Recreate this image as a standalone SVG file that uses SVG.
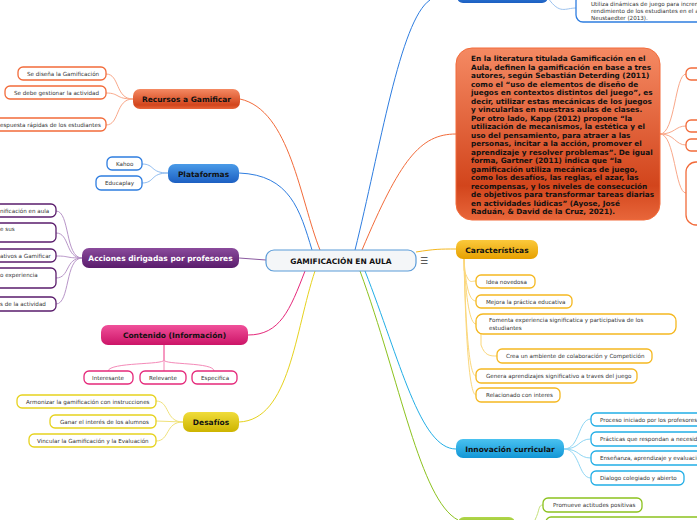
<svg xmlns="http://www.w3.org/2000/svg" width="697" height="520" viewBox="0 0 697 520">
<defs>
<linearGradient id="gO" x1="0" y1="0" x2="0" y2="1"><stop offset="0" stop-color="#f58a63"/><stop offset="0.8" stop-color="#d2451c"/><stop offset="1" stop-color="#e8663a"/></linearGradient>
<linearGradient id="gB" x1="0" y1="0" x2="0" y2="1"><stop offset="0" stop-color="#4a9be8"/><stop offset="1" stop-color="#1c5fc2"/></linearGradient>
<linearGradient id="gP" x1="0" y1="0" x2="0" y2="1"><stop offset="0" stop-color="#8a4b9c"/><stop offset="1" stop-color="#5a1c6c"/></linearGradient>
<linearGradient id="gK" x1="0" y1="0" x2="0" y2="1"><stop offset="0" stop-color="#f0509a"/><stop offset="1" stop-color="#cc1467"/></linearGradient>
<linearGradient id="gY" x1="0" y1="0" x2="0" y2="1"><stop offset="0" stop-color="#f0dc3a"/><stop offset="1" stop-color="#cdb400"/></linearGradient>
<linearGradient id="gA" x1="0" y1="0" x2="0" y2="1"><stop offset="0" stop-color="#fbc93c"/><stop offset="1" stop-color="#e6a000"/></linearGradient>
<linearGradient id="gC" x1="0" y1="0" x2="0" y2="1"><stop offset="0" stop-color="#4ac2f0"/><stop offset="1" stop-color="#1296d6"/></linearGradient>
<linearGradient id="gG" x1="0" y1="0" x2="0" y2="1"><stop offset="0" stop-color="#b0d64a"/><stop offset="1" stop-color="#86b21c"/></linearGradient>
</defs>
<style>
text{font-family:"DejaVu Sans",sans-serif;}
.m{font-size:7.5px;font-weight:bold;fill:#111;text-anchor:middle;}
.mw{font-size:7.5px;font-weight:bold;fill:#fff;text-anchor:middle;}
.c{font-size:5.6px;fill:#333;}
.ch{fill:#fff;stroke-width:1.3;}
.l{fill:none;stroke-width:1;}
</style>
<g id="connectors">
<path class="l" stroke="#f26b3a" stroke-width="1.5" d="M320 250 C300 200 290 110 240 99"/>
<path class="l" stroke="#2e7de0" stroke-width="1.5" d="M312 250 C300 210 290 175 239 173"/>
<path class="l" stroke="#8b5aa0" stroke-width="1.5" d="M266 260 L239 258"/>
<path class="l" stroke="#e5287a" stroke-width="1.5" d="M305 271 C290 310 280 335 248 335"/>
<path class="l" stroke="#e6d21e" stroke-width="1.5" d="M315 271 C295 330 290 420 239 422"/>
<path class="l" stroke="#2e7de0" stroke-width="1.5" d="M355 250 C380 150 400 20 430 0"/>
<path class="l" stroke="#f26b3a" stroke-width="1.5" d="M362 250 C400 160 420 134 456 134"/>
<path class="l" stroke="#f5b820" stroke-width="1.5" d="M416 252 C435 249 440 249 456 249"/>
<path class="l" stroke="#22aee6" stroke-width="1.5" d="M365 271 C400 360 420 449 456 449"/>
<path class="l" stroke="#8cc21e" stroke-width="1.5" d="M360 271 C400 380 420 500 458 520"/>
<g stroke="#f9a88a"><path class="l" d="M133 99 C115 99 120 74 106 74"/><path class="l" d="M133 99 C115 99 120 93 106 93"/><path class="l" d="M133 99 C115 99 120 125 106 125"/></g>
<g stroke="#8fbcf0"><path class="l" d="M168 173 C150 173 155 164 142 164"/><path class="l" d="M168 173 C150 173 155 183 142 183"/></g>
<g stroke="#b895c8"><path class="l" d="M82 258 C65 258 70 211 56 211"/><path class="l" d="M82 258 C65 258 70 233 56 233"/><path class="l" d="M82 258 C65 258 70 256 56 256"/><path class="l" d="M82 258 C65 258 70 278 56 278"/><path class="l" d="M82 258 C65 258 70 304 56 304"/></g>
<g stroke="#f48ab8"><path class="l" d="M164 345 L164 360 C164 365 110 362 108 371"/><path class="l" d="M164 345 L164 371"/><path class="l" d="M164 345 L164 360 C164 365 214 362 214 371"/></g>
<g stroke="#f0e27a"><path class="l" d="M183 422 C165 422 170 401 156 401"/><path class="l" d="M183 422 L156 421"/><path class="l" d="M183 422 C165 422 170 441 156 441"/></g>
<g stroke="#9cc2ee"><path class="l" d="M548 -2 C560 15 565 8 576 8"/></g>
<g stroke="#f9a88a"><path class="l" d="M660 134 C675 134 675 74 686 74"/><path class="l" d="M660 134 C675 134 675 126 686 126"/><path class="l" d="M660 134 C675 134 675 145 686 145"/><path class="l" d="M660 134 C675 134 675 193 686 193"/></g>
<g stroke="#fbd77a"><path class="l" d="M464 259 L464 270 C470 285 470 281 476 281"/><path class="l" d="M464 259 C466 290 470 301 476 301"/><path class="l" d="M464 259 C466 300 470 324 476 324"/><path class="l" d="M464 259 C466 340 470 376 476 376"/><path class="l" d="M464 259 C466 350 470 395 476 395"/><path class="l" d="M481 334 L481 345 C485 356 490 356 497 356"/></g>
<g stroke="#8fd6f4"><path class="l" d="M564 449 C580 449 578 419 591 419"/><path class="l" d="M564 449 C580 449 578 439 591 439"/><path class="l" d="M564 449 C580 449 578 458 591 458"/><path class="l" d="M564 449 C580 449 578 478 591 478"/></g>
<g stroke="#c4e07a"><path class="l" d="M535 520 C540 510 538 505 543 505"/></g>
</g>
<g id="center"><rect x="266" y="250" width="150" height="21" rx="8" fill="#f4f6f8" stroke="#5a9bd8" stroke-width="1.2"/><text class="m" x="341" y="264" font-size="8.5">GAMIFICACIÓN EN AULA</text><text x="424" y="264" font-size="9" fill="#333" text-anchor="middle">☰</text></g>
<g id="recursos"><rect x="133" y="89" width="107" height="20" rx="7" fill="url(#gO)"/><text class="m" x="186.5" y="102">Recursos a Gamificar</text>
<rect class="ch" stroke="#f26b3a" x="18" y="67" width="88" height="13" rx="5"/><text class="c" x="27" y="76">Se diseña la Gamificación</text>
<rect class="ch" stroke="#f26b3a" x="5" y="86" width="101" height="13" rx="5"/><text class="c" x="14" y="95">Se debe gestionar la actividad</text>
<rect class="ch" stroke="#f26b3a" x="-20" y="118" width="126" height="13" rx="5"/><text class="c" x="0" y="127">espuesta rápidas de los estudiantes</text></g>
<g id="plataformas"><rect x="168" y="164" width="71" height="19" rx="7" fill="url(#gB)"/><text class="m" x="203.5" y="177">Plataformas</text>
<rect class="ch" stroke="#2e7de0" x="107" y="157" width="35" height="13" rx="5"/><text class="c" x="116" y="166">Kahoo</text>
<rect class="ch" stroke="#2e7de0" x="96" y="176" width="46" height="14" rx="5"/><text class="c" x="105" y="185">Educaplay</text></g>
<g id="acciones"><rect x="82" y="248" width="157" height="20" rx="7" fill="url(#gP)"/><text class="mw" x="160.5" y="261">Acciones dirigadas por profesores</text>
<rect class="ch" stroke="#5a1c6c" x="-20" y="204" width="76" height="13" rx="5"/><text class="c" x="0" y="213">nificación en aula</text>
<rect class="ch" stroke="#5a1c6c" x="-20" y="223" width="76" height="19" rx="5"/><text class="c" x="0" y="231">e sus</text>
<rect class="ch" stroke="#5a1c6c" x="-20" y="249" width="76" height="13" rx="5"/><text class="c" x="0" y="258">ativos a Gamificar</text>
<rect class="ch" stroke="#5a1c6c" x="-20" y="268" width="76" height="20" rx="5"/><text class="c" x="0" y="277">o experiencia</text>
<rect class="ch" stroke="#5a1c6c" x="-20" y="297" width="76" height="14" rx="5"/><text class="c" x="0" y="306">s de la actividad</text></g>
<g id="contenido"><rect x="101" y="325" width="147" height="20" rx="7" fill="url(#gK)"/><text class="m" x="174.5" y="338">Contenido (Información)</text>
<rect class="ch" stroke="#e5287a" x="84" y="371" width="49" height="13" rx="5"/><text class="c" x="92" y="380">Interesante</text>
<rect class="ch" stroke="#e5287a" x="140" y="371" width="46" height="13" rx="5"/><text class="c" x="149" y="380">Relevante</text>
<rect class="ch" stroke="#e5287a" x="192" y="371" width="45" height="13" rx="5"/><text class="c" x="201" y="380">Especifica</text></g>
<g id="desafios"><rect x="183" y="412" width="56" height="20" rx="7" fill="url(#gY)"/><text class="m" x="211" y="425">Desafíos</text>
<rect class="ch" stroke="#e6d21e" x="17" y="395" width="139" height="13" rx="5"/><text class="c" x="26" y="404">Armonizar la gamificación con instrucciones</text>
<rect class="ch" stroke="#e6d21e" x="50" y="415" width="106" height="13" rx="5"/><text class="c" x="60" y="424">Ganar el interés de los alumnos</text>
<rect class="ch" stroke="#e6d21e" x="29" y="434" width="127" height="13" rx="5"/><text class="c" x="37" y="443">Vincular la Gamificación y la Evaluación</text></g>
<g id="top"><rect x="457" y="-12" width="91" height="15" rx="6" fill="url(#gB)"/>
<rect class="ch" stroke="#2e7de0" x="576" y="-6" width="140" height="28" rx="7"/><text class="c" x="591" y="6">Utiliza dinámicas de juego para incrementar el</text><text class="c" x="591" y="13">rendimiento de los estudiantes en el aula,</text><text class="c" x="591" y="20">Neustaedter (2013).</text></g>
<g id="definicion"><rect x="456" y="48" width="204" height="172" rx="16" fill="url(#gO)" stroke="#f26b3a"/>
<g font-size="7.3" font-weight="bold" fill="#111">
<text x="471" y="61">En la literatura titulada Gamificación en el</text>
<text x="471" y="69.5">Aula, definen la gamificación en base a tres</text>
<text x="471" y="78">autores, según Sebastián Deterding (2011)</text>
<text x="471" y="86.5">como el “uso de elementos de diseño de</text>
<text x="471" y="95">juegos en contextos distintos del juego”, es</text>
<text x="471" y="103.5">decir, utilizar estas mecánicas de los juegos</text>
<text x="471" y="112">y vincularlas en nuestras aulas de clases.</text>
<text x="471" y="120.5">Por otro lado, Kapp (2012) propone “la</text>
<text x="471" y="129">utilización de mecanismos, la estética y el</text>
<text x="471" y="137.5">uso del pensamiento, para atraer a las</text>
<text x="471" y="146">personas, incitar a la acción, promover el</text>
<text x="471" y="154.5">aprendizaje y resolver problemas”. De igual</text>
<text x="471" y="163">forma, Gartner (2011) indica que “la</text>
<text x="471" y="171.5">gamificación utiliza mecánicas de juego,</text>
<text x="471" y="180">como los desafíos, las reglas, el azar, las</text>
<text x="471" y="188.5">recompensas, y los niveles de consecución</text>
<text x="471" y="197">de objetivos para transformar tareas diarias</text>
<text x="471" y="205.5">en actividades lúdicas” (Ayose, José</text>
<text x="471" y="214">Raduán, &amp; David de la Cruz, 2021).</text>
</g>
<rect class="ch" stroke="#f26b3a" x="686" y="68" width="30" height="12" rx="5"/>
<rect class="ch" stroke="#f26b3a" x="686" y="120" width="30" height="12" rx="5"/>
<rect class="ch" stroke="#f26b3a" x="686" y="139" width="30" height="12" rx="5"/>
<rect class="ch" stroke="#f26b3a" x="686" y="162" width="30" height="63" rx="10"/></g>
<g id="caracteristicas"><rect x="456" y="240" width="82" height="19" rx="7" fill="url(#gA)"/><text class="m" x="497" y="253">Características</text>
<rect class="ch" stroke="#f5b820" x="476" y="275" width="59" height="13" rx="5"/><text class="c" x="486" y="284">Idea novedosa</text>
<rect class="ch" stroke="#f5b820" x="476" y="295" width="96" height="13" rx="5"/><text class="c" x="486" y="304">Mejora la práctica educativa</text>
<rect class="ch" stroke="#f5b820" x="476" y="314" width="200" height="20" rx="7"/><text class="c" x="489" y="322">Fomenta experiencia significatica y participativa de los</text><text class="c" x="489" y="330">estudiantes</text>
<rect class="ch" stroke="#f5b820" x="497" y="349" width="155" height="14" rx="5"/><text class="c" x="506" y="358">Crea un ambiente de colaboración y Competición</text>
<rect class="ch" stroke="#f5b820" x="476" y="369" width="161" height="14" rx="5"/><text class="c" x="486" y="378">Genera aprendizajes significativo a traves del juego</text>
<rect class="ch" stroke="#f5b820" x="476" y="388" width="84" height="14" rx="5"/><text class="c" x="486" y="397">Relacionado con interes</text></g>
<g id="innovacion"><rect x="456" y="439" width="108" height="19" rx="7" fill="url(#gC)"/><text class="m" x="510" y="452">Innovación curricular</text>
<rect class="ch" stroke="#22aee6" x="591" y="413" width="125" height="13" rx="5"/><text class="c" x="600" y="422">Proceso iniciado por los profesores</text>
<rect class="ch" stroke="#22aee6" x="591" y="432" width="125" height="14" rx="5"/><text class="c" x="600" y="441">Prácticas que respondan a necesidades</text>
<rect class="ch" stroke="#22aee6" x="591" y="451" width="125" height="14" rx="5"/><text class="c" x="600" y="460">Enseñanza, aprendizaje y evaluación</text>
<rect class="ch" stroke="#22aee6" x="591" y="471" width="93" height="14" rx="5"/><text class="c" x="600" y="480">Dialogo colegiado y abierto</text></g>
<g id="green"><rect x="458" y="517" width="57" height="15" rx="6" fill="url(#gG)"/>
<rect class="ch" stroke="#8cc21e" x="543" y="498" width="99" height="14" rx="5"/><text class="c" x="553" y="507">Promueve actitudes positivas</text>
<rect class="ch" stroke="#8cc21e" x="546" y="517" width="170" height="14" rx="5"/></g>
</svg>
